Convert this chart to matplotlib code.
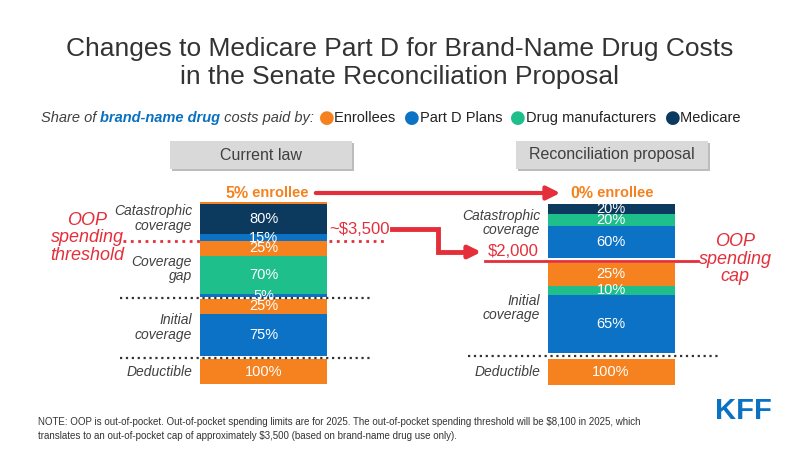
import matplotlib.pyplot as plt
from matplotlib.patches import Rectangle

plt.rcParams['font.family'] = ['Liberation Sans', 'DejaVu Sans']

ORANGE = '#f5821f'
BLUE = '#0b72c6'
GREEN = '#1fbf8c'
NAVY = '#0c3a5f'
RED = '#e42f3b'
GREY = '#404040'

payer_names = ["Enrollees", "Part D Plans", "Drug manufacturers", "Medicare"]
payer_colors = [ORANGE, BLUE, GREEN, NAVY]

# current law, phases and segments from bottom to top
cur_phases = ["Deductible", "Initial\ncoverage", "Coverage\ngap", "Catastrophic\ncoverage"]
cur_gap_before = [0, 3, 2, 0]
cur_seg_phase = [0, 1, 1, 2, 2, 2, 3, 3, 3]
cur_seg_payer = [0, 1, 0, 1, 2, 0, 1, 3, 0]
cur_seg_share = [100, 75, 25, 5, 70, 25, 15, 80, 5]
cur_seg_size = [25, 42, 15, 3, 38, 15, 7, 30, 2]

# reconciliation proposal
new_phases = ["Deductible", "Initial\ncoverage", "Catastrophic\ncoverage"]
new_gap_before = [0, 6, 5]
new_seg_phase = [0, 1, 1, 1, 2, 2, 2]
new_seg_payer = [0, 1, 2, 0, 1, 2, 3]
new_seg_share = [100, 65, 10, 25, 60, 20, 20]
new_seg_size = [26, 58, 9, 23, 32, 12, 10]

cur_oop = "~$3,500"
new_oop = "$2,000"
cur_cat_enrollee = "5%"
new_cat_enrollee = "0%"

title = "Changes to Medicare Part D for Brand-Name Drug Costs\nin the Senate Reconciliation Proposal"
note = ("NOTE: OOP is out-of-pocket. Out-of-pocket spending limits are for 2025. The out-of-pocket spending "
        "threshold will be $8,100 in 2025, which\ntranslates to an out-of-pocket cap of approximately $3,500 "
        "(based on brand-name drug use only).")


def draw_bar(ax, xc, base, phases, gaps, seg_phase, seg_payer, seg_share, seg_size,
             label_x, label_shift):
    spans = []
    y = base
    cur = -1
    for ph, pay, share, size in zip(seg_phase, seg_payer, seg_share, seg_size):
        if ph != cur:
            y += gaps[ph]
            spans.append([y, y])
            cur = ph
        ax.bar(xc, size, bottom=y, width=127, color=payer_colors[pay], linewidth=0)
        if size > 2:
            ax.text(xc, y + size / 2, f"{share}%", color='white', fontsize=10.5,
                    ha='center', va='center')
        y += size
        spans[ph][1] = y
    for i, (lo, hi) in enumerate(spans):
        ax.text(label_x, (lo + hi) / 2 + label_shift[i], phases[i], style='italic',
                color=GREY, fontsize=10, ha='right', va='center', linespacing=1.05)
    return spans


def enrollee_text(ax, x, y, share):
    t = ax.text(x, y, share, color=ORANGE, weight='bold', fontsize=11.5,
                ha='left', va='center')
    ax.annotate(" enrollee", xy=(1, 0.5), xycoords=t, color=ORANGE, weight='bold',
                fontsize=10.5, ha='left', va='center')


fig = plt.figure(figsize=(8, 4.5), dpi=100)
ax = fig.add_axes([0, 0, 1, 1])
ax.set_xlim(0, 800)
ax.set_ylim(0, 450)
ax.axis('off')

ax.text(400, 387, title, ha='center', va='center', fontsize=19, color='#333333',
        linespacing=1.2)

# legend line
t = ax.text(41, 332, "Share of ", style='italic', fontsize=10.5, color=GREY, va='center')
t = ax.annotate("brand-name drug", xy=(1, 0.5), xycoords=t, va='center', fontsize=10.5,
                style='italic', weight='bold', color='#0a70c0')
t = ax.annotate(" costs paid by: ", xy=(1, 0.5), xycoords=t, va='center', fontsize=10.5,
                style='italic', color=GREY)
for name, col in zip(payer_names, payer_colors):
    t = ax.annotate("\u25cf", xy=(1, 0.5), xycoords=t, va='center', fontsize=13,
                    color=col, family='DejaVu Sans')
    t = ax.annotate(name + "  ", xy=(1, 0.5), xycoords=t, va='center', fontsize=10.5,
                    color='#222222')

# header boxes
for x0, w, lab in [(170, 182, "Current law"), (516, 192, "Reconciliation proposal")]:
    ax.add_patch(Rectangle((x0 + 2, 281 - 2), w, 28, fc='#a0a0a0', ec='none', alpha=0.7))
    ax.add_patch(Rectangle((x0, 281), w, 28, fc='#d9d9d9', ec='none'))
    ax.text(x0 + w / 2, 295, lab, ha='center', va='center', fontsize=11.5, color=GREY)

cur_spans = draw_bar(ax, 263.5, 66, cur_phases, cur_gap_before, cur_seg_phase, cur_seg_payer,
                     cur_seg_share, cur_seg_size, 192, [0, 0, 0, 3])
new_spans = draw_bar(ax, 611, 65, new_phases, new_gap_before, new_seg_phase, new_seg_payer,
                     new_seg_share, new_seg_size, 540, [0, 0, 8])

# phase dividers
ax.plot([120, 370], [cur_spans[2][0] - 1, cur_spans[2][0] - 1], ls=':', color='#333333', lw=1.6)
ax.plot([120, 370], [(cur_spans[0][1] + cur_spans[1][0]) / 2] * 2, ls=':', color='#333333', lw=1.6)
ax.plot([468, 718], [(new_spans[0][1] + new_spans[1][0]) / 2] * 2, ls=':', color='#333333', lw=1.6)

# OOP threshold (current law)
thr = cur_spans[2][1]
ax.plot([123, 200], [thr, thr], ls=':', color=RED, lw=2)
ax.plot([329, 387], [thr, thr], ls=':', color=RED, lw=2)
ax.text(87, 212, "OOP\nspending\nthreshold", color=RED, style='italic', fontsize=13,
        ha='center', va='center', linespacing=1.05)
ax.text(329, 221, cur_oop, color=RED, fontsize=12, ha='left', va='center')

# OOP cap (proposal)
cap = (new_spans[1][1] + new_spans[2][0]) / 2
ax.plot([485, 698], [cap, cap], color=RED, lw=2)
ax.text(488, 198, new_oop, color=RED, fontsize=12, ha='left', va='center')
ax.text(735, 191, "OOP\nspending\ncap", color=RED, style='italic', fontsize=13,
        ha='center', va='center', linespacing=1.05)

# elbow arrow from ~$3,500 to $2,000
ax.plot([392, 438, 438, 470], [221, 221, 198, 198], color=RED, lw=3.5,
        solid_joinstyle='miter')
ax.annotate('', xy=(484, 198), xytext=(466, 198),
            arrowprops=dict(arrowstyle='-|>', color=RED, lw=3.5, mutation_scale=18))

# enrollee share in catastrophic
top = cur_spans[3][1]
enrollee_text(ax, 225, top + 9, cur_cat_enrollee)
ax.annotate('', xy=(563, top + 9), xytext=(313, top + 9),
            arrowprops=dict(arrowstyle='-|>', color=RED, lw=3, mutation_scale=20))
enrollee_text(ax, 570, top + 9, new_cat_enrollee)

ax.text(38, 21, note, fontsize=7, color='#333333', ha='left', va='center', linespacing=1.5)
ax.text(743, 39, "KFF", fontsize=21, weight='bold', color='#0a72c4', ha='center',
        va='center', family=['Liberation Sans Narrow', 'Liberation Sans'])

fig.savefig('out.png', dpi=100)
